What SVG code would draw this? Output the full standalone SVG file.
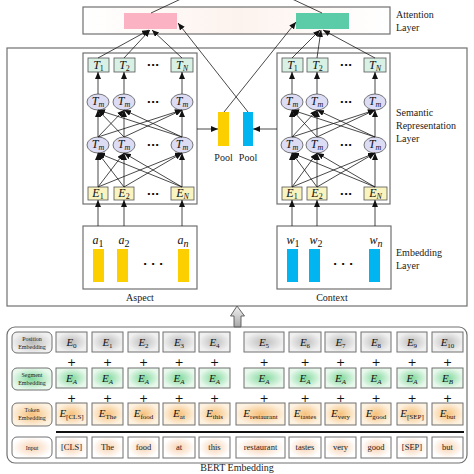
<svg xmlns="http://www.w3.org/2000/svg" width="474" height="474" viewBox="0 0 474 474">
<defs>
<style>
.box{fill:none;stroke:#707070;stroke-width:1.2}
.lbl{font-family:"Liberation Serif",serif;font-size:10px;fill:#222}
.m{font-family:"Liberation Serif",serif;font-style:italic;font-size:12px;text-anchor:middle;fill:#111}
.sub{font-size:8px}
.rm{font-style:normal}
.tb{fill:#d8f1e4;stroke:#555;stroke-width:0.8}
.tm{fill:#dcdcf5;stroke:#555;stroke-width:0.8}
.eb{fill:#f8f3bf;stroke:#555;stroke-width:0.8}
.dots{font-family:"DejaVu Sans",sans-serif;font-size:11px;font-weight:bold;text-anchor:middle;fill:#111}
.conn line{stroke:#1a1a1a;stroke-width:0.8;marker-end:url(#ah)}
.pos{fill:url(#gPos);stroke:#707070;stroke-width:1}
.seg{fill:url(#gSeg);stroke:#707070;stroke-width:1}
.tok{fill:url(#gTok);stroke:#707070;stroke-width:1}
.inp{fill:url(#gIn);stroke:#707070;stroke-width:1}
.bm{font-family:"Liberation Serif",serif;font-style:italic;font-size:11px;text-anchor:middle;fill:#111}
.bs{font-size:7px}
.bw{font-family:"Liberation Serif",serif;font-size:8.5px;text-anchor:middle;fill:#222}
.small{font-family:"Liberation Serif",serif;font-size:6px;text-anchor:middle;fill:#222}
.plus{font-family:"DejaVu Sans",sans-serif;font-size:11px;text-anchor:middle;fill:#111}
</style>
<marker id="ah" markerUnits="userSpaceOnUse" markerWidth="7" markerHeight="6" refX="7" refY="3" orient="auto"><path d="M0,0 L7,3 L0,6 z" fill="#111"/></marker>
<radialGradient id="gPos"><stop offset="0" stop-color="#bcbcbc"/><stop offset="1" stop-color="#f0f0f0"/></radialGradient>
<radialGradient id="gSeg"><stop offset="0" stop-color="#7fd89b"/><stop offset="1" stop-color="#e8f8ec"/></radialGradient>
<radialGradient id="gTok"><stop offset="0" stop-color="#f6c07a"/><stop offset="1" stop-color="#fdf1e0"/></radialGradient>
<radialGradient id="gIn"><stop offset="0" stop-color="#f8d2b2"/><stop offset="1" stop-color="#ffffff"/></radialGradient>
<linearGradient id="gAtt" x1="0" x2="1"><stop offset="0" stop-color="#ffffff"/><stop offset="0.5" stop-color="#fdf3ee"/><stop offset="1" stop-color="#ffffff"/></linearGradient>
<linearGradient id="gArr" x1="0" x2="0" y1="0" y2="1"><stop offset="0" stop-color="#f2f2f2"/><stop offset="1" stop-color="#a8a8a8"/></linearGradient>
</defs>
<rect width="474" height="474" fill="#ffffff"/>

<g id="attention">
<rect x="83" y="7" width="307" height="27" fill="url(#gAtt)" stroke="#707070" stroke-width="1.2"/>
<rect x="124" y="13" width="53" height="16" fill="#fbb3c3"/>
<rect x="296" y="13" width="53" height="16" fill="#5ccba8"/>
<text class="lbl" x="396" y="18">Attention</text>
<text class="lbl" x="396" y="31">Layer</text>
</g>

<g id="semantic-frame">
<rect x="7" y="48" width="460" height="258" class="box"/>
<text class="lbl" x="396" y="116">Semantic</text>
<text class="lbl" x="396" y="129">Representation</text>
<text class="lbl" x="396" y="142">Layer</text>
<text class="lbl" x="396" y="256">Embedding</text>
<text class="lbl" x="396" y="269">Layer</text>
</g>

<g id="aspect-encoder">
<rect x="83" y="53" width="114" height="151" class="box"/>
<rect x="88" y="58" width="21" height="14" class="tb"/>
<rect x="114" y="58" width="21" height="14" class="tb"/>
<rect x="171" y="58" width="22" height="14" class="tb"/>
<text class="m" x="98.5" y="69">T<tspan class="sub rm" dy="2">1</tspan></text>
<text class="m" x="124.5" y="69">T<tspan class="sub rm" dy="2">2</tspan></text>
<text class="m" x="182" y="69">T<tspan class="sub" dy="2">N</tspan></text>
<text class="dots" x="153" y="69">···</text>
<ellipse cx="98" cy="102" rx="11" ry="8" class="tm"/>
<ellipse cx="124" cy="102" rx="11" ry="8" class="tm"/>
<ellipse cx="182" cy="102" rx="11" ry="8" class="tm"/>
<text class="m" x="98" y="105">T<tspan class="sub" dy="2">m</tspan></text>
<text class="m" x="124" y="105">T<tspan class="sub" dy="2">m</tspan></text>
<text class="m" x="182" y="105">T<tspan class="sub" dy="2">m</tspan></text>
<text class="dots" x="153" y="106">···</text>
<ellipse cx="98" cy="145" rx="11" ry="8" class="tm"/>
<ellipse cx="124" cy="145" rx="11" ry="8" class="tm"/>
<ellipse cx="182" cy="145" rx="11" ry="8" class="tm"/>
<text class="m" x="98" y="148">T<tspan class="sub" dy="2">m</tspan></text>
<text class="m" x="124" y="148">T<tspan class="sub" dy="2">m</tspan></text>
<text class="m" x="182" y="148">T<tspan class="sub" dy="2">m</tspan></text>
<text class="dots" x="153" y="149">···</text>
<rect x="88" y="187" width="20" height="13" class="eb"/>
<rect x="114" y="187" width="20" height="13" class="eb"/>
<rect x="171" y="187" width="23" height="13" class="eb"/>
<text class="m" x="98" y="197">E<tspan class="sub rm" dy="2">1</tspan></text>
<text class="m" x="124" y="197">E<tspan class="sub rm" dy="2">2</tspan></text>
<text class="m" x="182.5" y="197">E<tspan class="sub" dy="2">N</tspan></text>
<text class="dots" x="153" y="198">···</text>
</g>

<g id="context-encoder">
<rect x="277" y="53" width="113" height="151" class="box"/>
<rect x="282" y="58" width="21" height="14" class="tb"/>
<rect x="307" y="58" width="21" height="14" class="tb"/>
<rect x="364" y="58" width="22" height="14" class="tb"/>
<text class="m" x="292.5" y="69">T<tspan class="sub rm" dy="2">1</tspan></text>
<text class="m" x="317.5" y="69">T<tspan class="sub rm" dy="2">2</tspan></text>
<text class="m" x="375" y="69">T<tspan class="sub" dy="2">N</tspan></text>
<text class="dots" x="346" y="69">···</text>
<ellipse cx="292" cy="102" rx="11" ry="8" class="tm"/>
<ellipse cx="317" cy="102" rx="11" ry="8" class="tm"/>
<ellipse cx="375" cy="102" rx="11" ry="8" class="tm"/>
<text class="m" x="292" y="105">T<tspan class="sub" dy="2">m</tspan></text>
<text class="m" x="317" y="105">T<tspan class="sub" dy="2">m</tspan></text>
<text class="m" x="375" y="105">T<tspan class="sub" dy="2">m</tspan></text>
<text class="dots" x="346" y="106">···</text>
<ellipse cx="292" cy="145" rx="11" ry="8" class="tm"/>
<ellipse cx="317" cy="145" rx="11" ry="8" class="tm"/>
<ellipse cx="375" cy="145" rx="11" ry="8" class="tm"/>
<text class="m" x="292" y="148">T<tspan class="sub" dy="2">m</tspan></text>
<text class="m" x="317" y="148">T<tspan class="sub" dy="2">m</tspan></text>
<text class="m" x="375" y="148">T<tspan class="sub" dy="2">m</tspan></text>
<text class="dots" x="346" y="149">···</text>
<rect x="282" y="187" width="20" height="13" class="eb"/>
<rect x="307" y="187" width="20" height="13" class="eb"/>
<rect x="364" y="187" width="23" height="13" class="eb"/>
<text class="m" x="292" y="197">E<tspan class="sub rm" dy="2">1</tspan></text>
<text class="m" x="317" y="197">E<tspan class="sub rm" dy="2">2</tspan></text>
<text class="m" x="375.5" y="197">E<tspan class="sub" dy="2">N</tspan></text>
<text class="dots" x="346" y="198">···</text>
</g>

<g id="pooling">
<rect x="218" y="112" width="11" height="34" fill="#fcd000"/>
<rect x="243" y="112" width="10" height="34" fill="#00b5f0"/>
<text class="lbl" x="223.5" y="161" text-anchor="middle" font-size="9">Pool</text>
<text class="lbl" x="248" y="161" text-anchor="middle" font-size="9">Pool</text>
</g>

<g id="aspect-embedding">
<rect x="83" y="226" width="114" height="63" class="box"/>
<text class="m" x="98" y="244" font-size="15">a<tspan font-size="10" class="rm" dy="3">1</tspan></text>
<text class="m" x="124" y="244" font-size="15">a<tspan font-size="10" class="rm" dy="3">2</tspan></text>
<text class="m" x="183" y="244" font-size="15">a<tspan font-size="10" dy="3">n</tspan></text>
<rect x="93" y="249" width="11" height="33" fill="#fcd000"/>
<rect x="117" y="249" width="11" height="33" fill="#fcd000"/>
<rect x="178" y="249" width="11" height="33" fill="#fcd000"/>
<text class="dots" x="153" y="268" font-weight="normal" font-size="9">· · ·</text>
<text class="lbl" x="140" y="301" text-anchor="middle">Aspect</text>
</g>

<g id="context-embedding">
<rect x="277" y="226" width="114" height="63" class="box"/>
<text class="m" x="293" y="244" font-size="15">w<tspan font-size="10" class="rm" dy="3">1</tspan></text>
<text class="m" x="316" y="244" font-size="15">w<tspan font-size="10" class="rm" dy="3">2</tspan></text>
<text class="m" x="376" y="244" font-size="15">w<tspan font-size="10" dy="3">n</tspan></text>
<rect x="287" y="249" width="11" height="33" fill="#00b5f0"/>
<rect x="309" y="249" width="11" height="33" fill="#00b5f0"/>
<rect x="369" y="249" width="11" height="33" fill="#00b5f0"/>
<text class="dots" x="343" y="268" font-weight="normal" font-size="9">· · ·</text>
<text class="lbl" x="332" y="301" text-anchor="middle">Context</text>
</g>

<g id="bert-arrow">
<polygon points="237,306 230.5,316 234,316 234,327 241,327 241,316 244.5,316" fill="url(#gArr)" stroke="#555" stroke-width="0.9"/>
</g>

<g id="connectors" class="conn">
<line x1="151" y1="13" x2="183" y2="-2" style="marker-end:none"/>
<line x1="322" y1="13" x2="290" y2="-2" style="marker-end:none"/>
<line x1="98" y1="58" x2="149" y2="30"/>
<line x1="124" y1="58" x2="150" y2="30"/>
<line x1="182" y1="58" x2="152" y2="30"/>
<line x1="292" y1="58" x2="320" y2="30"/>
<line x1="317" y1="58" x2="321" y2="30"/>
<line x1="375" y1="58" x2="323" y2="30"/>
<line x1="224" y1="112" x2="296" y2="22"/>
<line x1="248" y1="112" x2="178" y2="23"/>
<line x1="197" y1="129" x2="218" y2="129"/>
<line x1="277" y1="129" x2="253" y2="129"/>
<line x1="98" y1="94" x2="98" y2="72"/>
<line x1="124" y1="94" x2="124" y2="72"/>
<line x1="182" y1="94" x2="182" y2="72"/>
<line x1="98" y1="137" x2="98" y2="110"/>
<line x1="98" y1="137" x2="124" y2="110"/>
<line x1="98" y1="137" x2="182" y2="110"/>
<line x1="124" y1="137" x2="98" y2="110"/>
<line x1="124" y1="137" x2="124" y2="110"/>
<line x1="124" y1="137" x2="182" y2="110"/>
<line x1="182" y1="137" x2="98" y2="110"/>
<line x1="182" y1="137" x2="124" y2="110"/>
<line x1="182" y1="137" x2="182" y2="110"/>
<line x1="98" y1="187" x2="98" y2="153"/>
<line x1="98" y1="187" x2="124" y2="153"/>
<line x1="98" y1="187" x2="182" y2="153"/>
<line x1="124" y1="187" x2="98" y2="153"/>
<line x1="124" y1="187" x2="124" y2="153"/>
<line x1="124" y1="187" x2="182" y2="153"/>
<line x1="182" y1="187" x2="98" y2="153"/>
<line x1="182" y1="187" x2="124" y2="153"/>
<line x1="182" y1="187" x2="182" y2="153"/>
<line x1="292" y1="94" x2="292" y2="72"/>
<line x1="317" y1="94" x2="317" y2="72"/>
<line x1="375" y1="94" x2="375" y2="72"/>
<line x1="292" y1="137" x2="292" y2="110"/>
<line x1="292" y1="137" x2="317" y2="110"/>
<line x1="292" y1="137" x2="375" y2="110"/>
<line x1="317" y1="137" x2="292" y2="110"/>
<line x1="317" y1="137" x2="317" y2="110"/>
<line x1="317" y1="137" x2="375" y2="110"/>
<line x1="375" y1="137" x2="292" y2="110"/>
<line x1="375" y1="137" x2="317" y2="110"/>
<line x1="375" y1="137" x2="375" y2="110"/>
<line x1="292" y1="187" x2="292" y2="153"/>
<line x1="292" y1="187" x2="317" y2="153"/>
<line x1="292" y1="187" x2="375" y2="153"/>
<line x1="317" y1="187" x2="292" y2="153"/>
<line x1="317" y1="187" x2="317" y2="153"/>
<line x1="317" y1="187" x2="375" y2="153"/>
<line x1="375" y1="187" x2="292" y2="153"/>
<line x1="375" y1="187" x2="317" y2="153"/>
<line x1="375" y1="187" x2="375" y2="153"/>
<line x1="98" y1="226" x2="98" y2="200"/>
<line x1="124" y1="226" x2="124" y2="200"/>
<line x1="182" y1="226" x2="182" y2="200"/>
<line x1="292" y1="226" x2="292" y2="200"/>
<line x1="317" y1="226" x2="317" y2="200"/>
<line x1="375" y1="226" x2="375" y2="200"/>
</g>

<g id="bert-embedding">
<rect x="7" y="327" width="460" height="136" rx="8" class="box"/>
<rect x="12" y="332" width="40" height="21" rx="5" class="pos"/>
<text class="small" x="32" y="341">Position</text>
<text class="small" x="32" y="349">Embedding</text>
<rect x="12" y="368" width="40" height="22" rx="5" class="seg"/>
<text class="small" x="32" y="377">Segment</text>
<text class="small" x="32" y="385">Embedding</text>
<rect x="12" y="403" width="40" height="23" rx="5" class="tok"/>
<text class="small" x="32" y="412">Token</text>
<text class="small" x="32" y="420">Embedding</text>
<rect x="12" y="437" width="40" height="21" rx="5" class="inp"/>
<text class="small" x="32" y="450">Input</text>

<rect x="56" y="332" width="31" height="20" class="pos"/><text class="bm" x="71.5" y="346">E<tspan class="bs rm" dy="2">0</tspan></text>
<rect x="92" y="332" width="31" height="20" class="pos"/><text class="bm" x="107.5" y="346">E<tspan class="bs rm" dy="2">1</tspan></text>
<rect x="128" y="332" width="31" height="20" class="pos"/><text class="bm" x="143.5" y="346">E<tspan class="bs rm" dy="2">2</tspan></text>
<rect x="163" y="332" width="32" height="20" class="pos"/><text class="bm" x="179" y="346">E<tspan class="bs rm" dy="2">3</tspan></text>
<rect x="199" y="332" width="31" height="20" class="pos"/><text class="bm" x="214.5" y="346">E<tspan class="bs rm" dy="2">4</tspan></text>
<rect x="244" y="332" width="40" height="20" class="pos"/><text class="bm" x="264" y="346">E<tspan class="bs rm" dy="2">5</tspan></text>
<rect x="289" y="332" width="32" height="20" class="pos"/><text class="bm" x="305" y="346">E<tspan class="bs rm" dy="2">6</tspan></text>
<rect x="325" y="332" width="31" height="20" class="pos"/><text class="bm" x="340.5" y="346">E<tspan class="bs rm" dy="2">7</tspan></text>
<rect x="361" y="332" width="30" height="20" class="pos"/><text class="bm" x="376" y="346">E<tspan class="bs rm" dy="2">8</tspan></text>
<rect x="397" y="332" width="30" height="20" class="pos"/><text class="bm" x="412" y="346">E<tspan class="bs rm" dy="2">9</tspan></text>
<rect x="432" y="332" width="31" height="20" class="pos"/><text class="bm" x="447.5" y="346">E<tspan class="bs rm" dy="2">10</tspan></text>

<g class="plus">
<text x="71.5" y="366">+</text><text x="107.5" y="366">+</text><text x="143.5" y="366">+</text><text x="179" y="366">+</text><text x="214.5" y="366">+</text><text x="264" y="366">+</text><text x="305" y="366">+</text><text x="340.5" y="366">+</text><text x="376" y="366">+</text><text x="412" y="366">+</text><text x="447.5" y="366">+</text>
<text x="71.5" y="402">+</text><text x="107.5" y="402">+</text><text x="143.5" y="402">+</text><text x="179" y="402">+</text><text x="214.5" y="402">+</text><text x="264" y="402">+</text><text x="305" y="402">+</text><text x="340.5" y="402">+</text><text x="376" y="402">+</text><text x="412" y="402">+</text><text x="447.5" y="402">+</text>
</g>

<rect x="56" y="368" width="31" height="20" class="seg"/><text class="bm" x="71.5" y="382">E<tspan class="bs" dy="2">A</tspan></text>
<rect x="92" y="368" width="31" height="20" class="seg"/><text class="bm" x="107.5" y="382">E<tspan class="bs" dy="2">A</tspan></text>
<rect x="128" y="368" width="31" height="20" class="seg"/><text class="bm" x="143.5" y="382">E<tspan class="bs" dy="2">A</tspan></text>
<rect x="163" y="368" width="32" height="20" class="seg"/><text class="bm" x="179" y="382">E<tspan class="bs" dy="2">A</tspan></text>
<rect x="199" y="368" width="31" height="20" class="seg"/><text class="bm" x="214.5" y="382">E<tspan class="bs" dy="2">A</tspan></text>
<rect x="244" y="368" width="40" height="20" class="seg"/><text class="bm" x="264" y="382">E<tspan class="bs" dy="2">A</tspan></text>
<rect x="289" y="368" width="32" height="20" class="seg"/><text class="bm" x="305" y="382">E<tspan class="bs" dy="2">A</tspan></text>
<rect x="325" y="368" width="31" height="20" class="seg"/><text class="bm" x="340.5" y="382">E<tspan class="bs" dy="2">A</tspan></text>
<rect x="361" y="368" width="30" height="20" class="seg"/><text class="bm" x="376" y="382">E<tspan class="bs" dy="2">A</tspan></text>
<rect x="397" y="368" width="30" height="20" class="seg"/><text class="bm" x="412" y="382">E<tspan class="bs" dy="2">A</tspan></text>
<rect x="432" y="368" width="31" height="20" class="seg"/><text class="bm" x="447.5" y="382">E<tspan class="bs" dy="2">B</tspan></text>

<rect x="56" y="403" width="31" height="22" class="tok"/><text class="bm" x="71.5" y="417">E<tspan class="bs rm" dy="2">[CLS]</tspan></text>
<rect x="92" y="403" width="31" height="22" class="tok"/><text class="bm" x="107.5" y="417">E<tspan class="bs rm" dy="2">The</tspan></text>
<rect x="128" y="403" width="31" height="22" class="tok"/><text class="bm" x="143.5" y="417">E<tspan class="bs rm" dy="2">food</tspan></text>
<rect x="163" y="403" width="32" height="22" class="tok"/><text class="bm" x="179" y="417">E<tspan class="bs rm" dy="2">at</tspan></text>
<rect x="199" y="403" width="31" height="22" class="tok"/><text class="bm" x="214.5" y="417">E<tspan class="bs rm" dy="2">this</tspan></text>
<rect x="236" y="403" width="49" height="22" class="tok"/><text class="bm" x="260.5" y="417">E<tspan class="bs rm" dy="2">restaurant</tspan></text>
<rect x="289" y="403" width="32" height="22" class="tok"/><text class="bm" x="305" y="417">E<tspan class="bs rm" dy="2">tastes</tspan></text>
<rect x="325" y="403" width="31" height="22" class="tok"/><text class="bm" x="340.5" y="417">E<tspan class="bs rm" dy="2">very</tspan></text>
<rect x="361" y="403" width="30" height="22" class="tok"/><text class="bm" x="376" y="417">E<tspan class="bs rm" dy="2">good</tspan></text>
<rect x="397" y="403" width="30" height="22" class="tok"/><text class="bm" x="412" y="417">E<tspan class="bs rm" dy="2">[SEP]</tspan></text>
<rect x="432" y="403" width="31" height="22" class="tok"/><text class="bm" x="447.5" y="417">E<tspan class="bs rm" dy="2">but</tspan></text>

<line x1="56" y1="432" x2="464" y2="432" stroke="#111" stroke-width="1.8"/>

<rect x="56" y="437" width="31" height="21" class="inp"/><text class="bw" x="71.5" y="450">[CLS]</text>
<rect x="92" y="437" width="31" height="21" class="inp"/><text class="bw" x="107.5" y="450">The</text>
<rect x="128" y="437" width="31" height="21" class="inp"/><text class="bw" x="143.5" y="450">food</text>
<rect x="163" y="437" width="32" height="21" class="inp"/><text class="bw" x="179" y="450">at</text>
<rect x="199" y="437" width="31" height="21" class="inp"/><text class="bw" x="214.5" y="450">this</text>
<rect x="236" y="437" width="49" height="21" class="inp"/><text class="bw" x="260.5" y="450">restaurant</text>
<rect x="289" y="437" width="32" height="21" class="inp"/><text class="bw" x="305" y="450">tastes</text>
<rect x="325" y="437" width="31" height="21" class="inp"/><text class="bw" x="340.5" y="450">very</text>
<rect x="361" y="437" width="30" height="21" class="inp"/><text class="bw" x="376" y="450">good</text>
<rect x="397" y="437" width="30" height="21" class="inp"/><text class="bw" x="412" y="450">[SEP]</text>
<rect x="432" y="437" width="31" height="21" class="inp"/><text class="bw" x="447.5" y="450">but</text>

<text class="lbl" x="237" y="471" text-anchor="middle" font-size="10">BERT Embedding</text>
</g>
</svg>
